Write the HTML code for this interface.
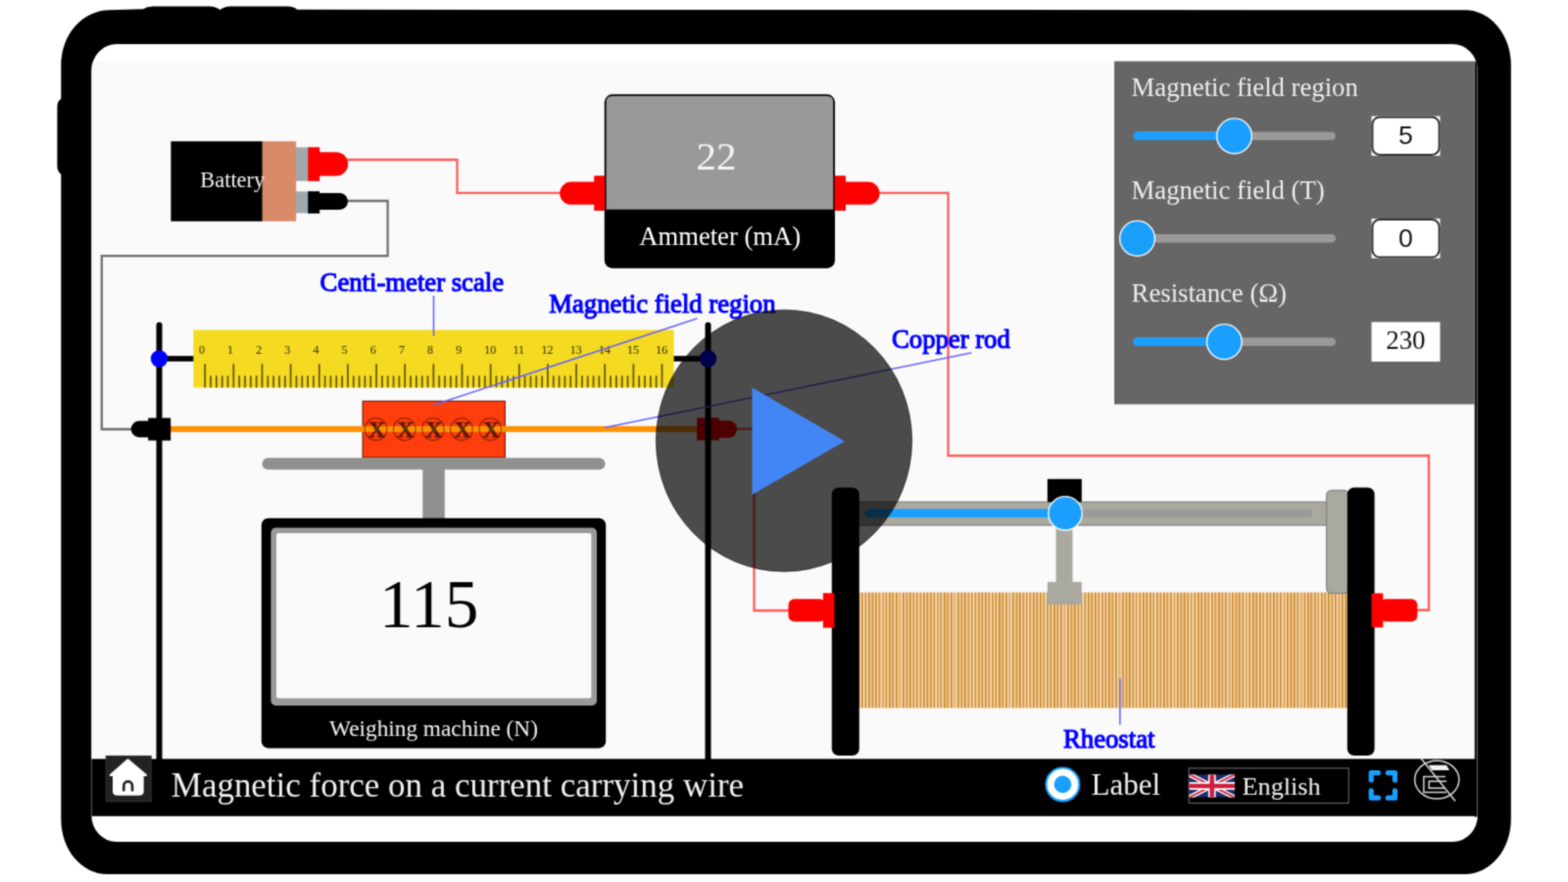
<!DOCTYPE html>
<html lang="en">
<head>
<meta charset="utf-8">
<title>Magnetic force on a current carrying wire</title>
<style>
html,body{margin:0;padding:0;width:1600px;height:900px;overflow:hidden;background:#ffffff}
svg{display:block;position:absolute;left:0;top:0}
text{font-family:"Liberation Serif",serif}
.sans{font-family:"Liberation Sans",sans-serif}
.lbl{fill:#0000ff;stroke:#0000ff;stroke-width:1.15px;stroke-linejoin:round;font-size:26.7px}
.lead{stroke:#6464ff;stroke-width:1.6;fill:none}
.rw{stroke:#ff5a5a;stroke-width:2.3;fill:none}
.bw{stroke:#6e6e6e;stroke-width:2.3;fill:none}
.pl{fill:#eeeeee;font-size:26.7px}
</style>
</head>
<body>
<svg id="stage" width="1600" height="900" viewBox="0 0 1600 900">
<defs>
<filter id="soft" x="0" y="0" width="1600" height="900" filterUnits="userSpaceOnUse" color-interpolation-filters="sRGB"><feConvolveMatrix order="3" kernelMatrix="0.0400 0.1200 0.0400 0.1200 0.3600 0.1200 0.0400 0.1200 0.0400" divisor="1" edgeMode="duplicate" preserveAlpha="true"/></filter>
<clipPath id="scr"><rect x="93.3" y="45" width="1414.6" height="814" rx="25.5" ry="27"/></clipPath>
<pattern id="coil" x="875.5" y="0" width="3.5" height="10" patternUnits="userSpaceOnUse">
<rect x="0" y="0" width="3.5" height="10" fill="#e7ba7a"/>
<rect x="0.1" y="0" width="1.2" height="10" fill="#c87a14"/>
<rect x="2.2" y="0" width="0.9" height="10" fill="#fdf3e2"/>
</pattern>
<pattern id="coil2" x="881" y="0" width="18.6" height="10" patternUnits="userSpaceOnUse">
<rect x="0" y="0" width="1" height="10" fill="#ffffff" fill-opacity="0.45"/>
<rect x="9.3" y="0" width="1.1" height="10" fill="#c77f1f" fill-opacity="0.35"/>
</pattern>
</defs>

<g filter="url(#soft)">
<rect width="1600" height="900" fill="#ffffff"/>
<path fill="#000000" d="M112 10.3 L146 9.2 Q150 6.6 156 6.6 L214 6.6 Q220 6.8 224.5 10 Q229 6.8 235 6.6 L294 6.6 Q300 6.8 303 9.8 L1495 10.3 A46.8 56 0 0 1 1541.8 66.3 L1541.8 836 A46.8 56 0 0 1 1495 892 L109 892 A46.7 56 0 0 1 62.3 836 L62.3 178 Q58.4 175 58.4 169 L58.4 109 Q58.4 103 62.3 101 L62.3 66 A49.7 55.7 0 0 1 112 10.3 Z"/>
<rect x="93.3" y="45" width="1414.6" height="814" rx="25.5" ry="27" fill="#ffffff"/>
<g clip-path="url(#scr)">
<rect x="93.3" y="62.5" width="1411.4" height="712" fill="#fafafa"/>
<rect x="1504.7" y="62.5" width="3" height="771" fill="#111111"/>
<path class="rw" d="M354 163 H466.5 V196.8 H573"/>
<path class="rw" d="M896 196.8 H967.5 V465 H1458 V622.5 H1445"/>
<path class="rw" d="M750 437.7 H769.5 V623 H806"/>
<path class="bw" d="M354 205 H395.6 V261.2 H103.8 V438 H136"/>
<rect x="174.4" y="144.2" width="93.5" height="81.6" fill="#000000"/>
<rect x="267.7" y="144.2" width="34.5" height="81.6" fill="#d98b69"/>
<rect x="302" y="150.3" width="12.4" height="34.4" fill="#a0a7ad"/>
<rect x="302" y="195.3" width="12.4" height="22.2" fill="#a0a7ad"/>
<rect x="314.2" y="150.2" width="12" height="34.6" fill="#ff0000"/>
<path fill="#ff0000" d="M324 155.3 H343 A12.1 12.1 0 0 1 343 179.5 H324 Z"/>
<rect x="314.2" y="195.2" width="12" height="22.6" fill="#000000"/>
<path fill="#000000" d="M324 197 H346.5 A8.5 8.5 0 0 1 346.5 214 H324 Z"/>
<text x="204.3" y="191.4" font-size="22.4" fill="#f2f2f2">Battery</text>
<rect x="616.8" y="96.3" width="235.2" height="177.4" rx="8" ry="8" fill="#000000"/>
<path fill="#999999" d="M618.6 104.3 Q618.6 98.1 624.8 98.1 H844 Q850.2 98.1 850.2 104.3 V213.8 H618.6 Z"/>
<text x="731" y="173.2" font-size="41" fill="#f4f4f4" text-anchor="middle">22</text>
<text x="734.7" y="250" font-size="26.6" fill="#ffffff" text-anchor="middle">Ammeter (mA)</text>
<rect x="606.2" y="179.3" width="11" height="35.7" fill="#ff0000"/>
<path fill="#ff0000" d="M608 185.5 H582.9 A11.6 11.6 0 0 0 582.9 208.8 H608 Z"/>
<rect x="851.6" y="179.3" width="11.4" height="35.7" fill="#ff0000"/>
<path fill="#ff0000" d="M861 185.5 H885.9 A11.6 11.6 0 0 1 885.9 208.8 H861 Z"/>
<rect x="162.5" y="363.2" width="36" height="5.6" fill="#000000"/>
<rect x="687" y="363.2" width="36" height="5.6" fill="#000000"/>
<rect x="197.3" y="336.6" width="490.3" height="58.9" fill="#f5da22"/>
<g stroke="#000000" stroke-opacity="0.62" stroke-width="1.7" fill="none">
<path d="M209.20 371.2V395.5M215.03 383.4V395.5M220.86 383.4V395.5M226.69 383.4V395.5M232.51 383.4V395.5M238.34 371.2V395.5M244.17 383.4V395.5M250.00 383.4V395.5M255.83 383.4V395.5M261.66 383.4V395.5M267.49 371.2V395.5M273.32 383.4V395.5M279.14 383.4V395.5M284.97 383.4V395.5M290.80 383.4V395.5M296.63 371.2V395.5M302.46 383.4V395.5M308.29 383.4V395.5M314.12 383.4V395.5M319.95 383.4V395.5M325.77 371.2V395.5M331.60 383.4V395.5M337.43 383.4V395.5M343.26 383.4V395.5M349.09 383.4V395.5M354.92 371.2V395.5M360.75 383.4V395.5M366.58 383.4V395.5M372.40 383.4V395.5M378.23 383.4V395.5M384.06 371.2V395.5M389.89 383.4V395.5M395.72 383.4V395.5M401.55 383.4V395.5M407.38 383.4V395.5M413.21 371.2V395.5M419.03 383.4V395.5M424.86 383.4V395.5M430.69 383.4V395.5M436.52 383.4V395.5M442.35 371.2V395.5M448.18 383.4V395.5M454.01 383.4V395.5M459.84 383.4V395.5M465.67 383.4V395.5M471.49 371.2V395.5M477.32 383.4V395.5M483.15 383.4V395.5M488.98 383.4V395.5M494.81 383.4V395.5M500.64 371.2V395.5M506.47 383.4V395.5M512.30 383.4V395.5M518.12 383.4V395.5M523.95 383.4V395.5M529.78 371.2V395.5M535.61 383.4V395.5M541.44 383.4V395.5M547.27 383.4V395.5M553.10 383.4V395.5M558.92 371.2V395.5M564.75 383.4V395.5M570.58 383.4V395.5M576.41 383.4V395.5M582.24 383.4V395.5M588.07 371.2V395.5M593.90 383.4V395.5M599.73 383.4V395.5M605.56 383.4V395.5M611.38 383.4V395.5M617.21 371.2V395.5M623.04 383.4V395.5M628.87 383.4V395.5M634.70 383.4V395.5M640.53 383.4V395.5M646.36 371.2V395.5M652.18 383.4V395.5M658.01 383.4V395.5M663.84 383.4V395.5M669.67 383.4V395.5M675.50 371.2V395.5"/>
</g>
<g font-size="13" fill="#1c1600" stroke="#1c1600" stroke-width="0.15" opacity="0.82">
<text transform="translate(202.90 361) scale(0.92 1)">0</text>
<text transform="translate(232.04 361) scale(0.92 1)">1</text>
<text transform="translate(261.19 361) scale(0.92 1)">2</text>
<text transform="translate(290.33 361) scale(0.92 1)">3</text>
<text transform="translate(319.47 361) scale(0.92 1)">4</text>
<text transform="translate(348.62 361) scale(0.92 1)">5</text>
<text transform="translate(377.76 361) scale(0.92 1)">6</text>
<text transform="translate(406.91 361) scale(0.92 1)">7</text>
<text transform="translate(436.05 361) scale(0.92 1)">8</text>
<text transform="translate(465.19 361) scale(0.92 1)">9</text>
<text transform="translate(494.34 361) scale(0.92 1)">10</text>
<text transform="translate(523.48 361) scale(0.92 1)">11</text>
<text transform="translate(552.62 361) scale(0.92 1)">12</text>
<text transform="translate(581.77 361) scale(0.92 1)">13</text>
<text transform="translate(610.91 361) scale(0.92 1)">14</text>
<text transform="translate(640.06 361) scale(0.92 1)">15</text>
<text transform="translate(669.20 361) scale(0.92 1)">16</text>
</g>
<rect x="370.1" y="409.4" width="145.2" height="57.4" fill="#ff3d0d" stroke="#7a1c02" stroke-width="1.2"/>
<rect x="172" y="434.8" width="541" height="6" fill="#ff9100"/>
<g fill="none" stroke="#3a1200" stroke-opacity="0.55" stroke-width="1.2">
<circle cx="383.6" cy="438" r="11.3"/>
<circle cx="412.8" cy="438" r="11.3"/>
<circle cx="441.9" cy="438" r="11.3"/>
<circle cx="471.0" cy="438" r="11.3"/>
<circle cx="500.2" cy="438" r="11.3"/>
</g>
<g font-size="23" font-weight="bold" fill="#1a0600" stroke="#1a0600" stroke-width="0.5" opacity="0.7" text-anchor="middle">
<text x="384.6" y="445.9">X</text>
<text x="413.8" y="445.9">X</text>
<text x="442.9" y="445.9">X</text>
<text x="472.0" y="445.9">X</text>
<text x="501.2" y="445.9">X</text>
</g>
<rect x="151.2" y="426.5" width="23" height="23" fill="#000000"/>
<path fill="#000000" d="M153 429.5 H142.1 A8.4 8.4 0 0 0 142.1 446.3 H153 Z"/>
<rect x="711.2" y="426.3" width="22.6" height="23" fill="#ff0000"/>
<path fill="#ff0000" d="M732 429.3 H743.3 A8.7 8.7 0 0 1 743.3 446.7 H732 Z"/>
<path d="M162.5 331.7 V776" stroke="#000000" stroke-width="6" stroke-linecap="round" fill="none"/>
<path d="M722.5 331.7 V776" stroke="#000000" stroke-width="6" stroke-linecap="round" fill="none"/>
<circle cx="162.5" cy="366" r="8.7" fill="#0000ff"/>
<circle cx="722.5" cy="366" r="8.7" fill="#0000ff"/>
<rect x="267.5" y="467.2" width="350" height="12" rx="6" ry="6" fill="#8f918f"/>
<rect x="431.3" y="478" width="22.5" height="52" fill="#8f918f"/>
<rect x="266.8" y="528.8" width="351.4" height="234.6" rx="7" ry="7" fill="#000000"/>
<rect x="276.4" y="538.6" width="332.6" height="181.4" rx="5" ry="5" fill="#999999"/>
<rect x="282" y="544" width="321.4" height="168.6" rx="2" ry="2" fill="#fafafa"/>
<text x="437.6" y="640.4" font-size="69.3" fill="#000000" text-anchor="middle">115</text>
<text x="442.5" y="750.9" font-size="23.3" fill="#f2f2f2" text-anchor="middle">Weighing machine (N)</text>
<rect x="875.5" y="604.5" width="499.5" height="118" fill="url(#coil)"/>
<rect x="875.5" y="604.5" width="499.5" height="118" fill="url(#coil2)"/>
<rect x="872" y="512.3" width="484" height="23.6" fill="#aaa9a0" stroke="#858585" stroke-width="1.4"/>
<rect x="882.5" y="519.5" width="457" height="8.6" rx="4.3" ry="4.3" fill="#999999"/>
<rect x="882.5" y="519.5" width="206" height="8.6" rx="4.3" ry="4.3" fill="#1a9fff"/>
<rect x="1068.8" y="488.8" width="35" height="23.4" fill="#000000"/>
<rect x="1077.5" y="536.5" width="17" height="60" fill="#aaa9a0"/>
<rect x="1068.8" y="593.8" width="35" height="23" fill="#aaa9a0"/>
<circle cx="1087" cy="523.8" r="17.2" fill="#1a9fff" stroke="#f4f8fb" stroke-width="1.4"/>
<rect x="1353.6" y="500.4" width="23" height="105" rx="5" ry="5" fill="#aaa9a0" stroke="#858585" stroke-width="1.3"/>
<rect x="848.8" y="497.5" width="28" height="273.5" rx="7" ry="7" fill="#000000"/>
<rect x="1374.8" y="497.5" width="27.8" height="273.5" rx="7" ry="7" fill="#000000"/>
<rect x="839.8" y="605.2" width="11.6" height="35.4" fill="#ff0000"/>
<rect x="804.5" y="611.3" width="38" height="23" rx="6" ry="6" fill="#ff0000"/>
<rect x="1399.5" y="605.4" width="11.8" height="34.8" fill="#ff0000"/>
<rect x="1408" y="611.3" width="38.3" height="23" rx="6" ry="6" fill="#ff0000"/>
<path class="lead" d="M442.5 301.8 V343"/>
<path class="lead" d="M711.3 325 L442.4 413.3"/>
<path class="lead" d="M991.3 360 L617.5 436.3"/>
<path class="lead" d="M1142.8 692.5 V739.5"/>
<text class="lbl" x="326.6" y="296.8">Centi-meter scale</text>
<text class="lbl" x="560.3" y="318.8">Magnetic field region</text>
<text class="lbl" x="910" y="354.8">Copper rod</text>
<text class="lbl" x="1085" y="762.5">Rheostat</text>
<rect x="1137" y="62.5" width="367.7" height="350" fill="#666666"/>
<text class="pl" x="1154.6" y="97.5">Magnetic field region</text>
<text class="pl" x="1154.6" y="202.5">Magnetic field (T)</text>
<text class="pl" x="1154.6" y="308.3">Resistance (Ω)</text>
<rect x="1156.3" y="134.50" width="206.7" height="8.6" rx="4.3" ry="4.3" fill="#999999"/>
<rect x="1156.3" y="134.50" width="103.20" height="8.6" rx="4.3" ry="4.3" fill="#1a9fff"/>
<circle cx="1259.50" cy="138.80" r="17.9" fill="#1a9fff" stroke="#f4f8fb" stroke-width="1.4"/>
<rect x="1156.3" y="239.00" width="206.7" height="8.6" rx="4.3" ry="4.3" fill="#999999"/>
<circle cx="1160.50" cy="243.30" r="17.9" fill="#1a9fff" stroke="#f4f8fb" stroke-width="1.4"/>
<rect x="1156.3" y="344.50" width="206.7" height="8.6" rx="4.3" ry="4.3" fill="#999999"/>
<rect x="1156.3" y="344.50" width="93.00" height="8.6" rx="4.3" ry="4.3" fill="#1a9fff"/>
<circle cx="1249.30" cy="348.80" r="17.9" fill="#1a9fff" stroke="#f4f8fb" stroke-width="1.4"/>
<rect x="1399.5" y="118.50" width="70" height="40.4" fill="#ffffff"/>
<rect x="1400.4" y="119.40" width="68.2" height="38.6" rx="7.5" ry="7.5" fill="#ffffff" stroke="#303030" stroke-width="2"/>
<text class="sans" x="1434.4" y="147.30" font-size="26.6" fill="#111111" text-anchor="middle">5</text>
<rect x="1399.5" y="223.10" width="70" height="40.4" fill="#ffffff"/>
<rect x="1400.4" y="224.00" width="68.2" height="38.6" rx="7.5" ry="7.5" fill="#ffffff" stroke="#303030" stroke-width="2"/>
<text class="sans" x="1434.4" y="251.90" font-size="26.6" fill="#111111" text-anchor="middle">0</text>
<rect x="1399.5" y="328.60" width="70" height="40.4" fill="#ffffff"/>
<text  x="1434.4" y="355.80" font-size="26.9" fill="#111111" text-anchor="middle">230</text>
<rect x="93.3" y="774.4" width="1413" height="58.4" fill="#000000"/>
</g>
<rect x="108.2" y="771.4" width="46" height="46.4" fill="#222222" stroke="#333333" stroke-width="1"/>
<path fill="#ffffff" stroke="#ffffff" stroke-width="2" stroke-linejoin="round" d="M130.5 775.3 L149 791 L145.7 791 L145.7 807.6 Q145.7 810.7 142.6 810.7 L119.1 810.7 Q116 810.7 116 807.6 L116 791 L112.7 791 Z"/>
<path fill="none" stroke="#222222" stroke-width="2.7" stroke-linecap="round" d="M126.3 806.3 V801.7 A4.35 4.35 0 0 1 135 801.7 V806.3"/>
<text x="174.8" y="812.5" font-size="36" fill="#f2f2f2" textLength="584.3" lengthAdjust="spacingAndGlyphs">Magnetic force on a current carrying wire</text>
<circle cx="1084.4" cy="800.4" r="16.9" fill="#ffffff" stroke="#1a9fff" stroke-width="2.2"/>
<circle cx="1084.4" cy="800.4" r="8.8" fill="#1a9fff"/>
<text x="1113.6" y="811.4" font-size="31" fill="#f2f2f2">Label</text>
<rect x="1213.2" y="783.9" width="163" height="35.6" fill="#000000" stroke="#606060" stroke-width="1.2"/>
<svg x="1213.4" y="790.2" width="46.6" height="23.6" viewBox="0 0 60 30" preserveAspectRatio="none">
<rect width="60" height="30" fill="#1b2a6b"/>
<path d="M0 0 L60 30 M60 0 L0 30" stroke="#ffffff" stroke-width="6"/>
<path d="M0 0 L60 30 M60 0 L0 30" stroke="#cf2040" stroke-width="2.4"/>
<path d="M30 0 V30 M0 15 H60" stroke="#ffffff" stroke-width="10"/>
<path d="M30 0 V30 M0 15 H60" stroke="#cf2040" stroke-width="6"/>
</svg>
<text x="1267.6" y="811.4" font-size="26.2" fill="#f2f2f2">English</text>
<g fill="none" stroke="#1a9fff" stroke-width="5.2" stroke-linecap="round" stroke-linejoin="round">
<path d="M1399.2 796 V788.6 H1406.4"/>
<path d="M1416.2 788.6 H1423.4 V796"/>
<path d="M1399.2 806.8 V814.2 H1406.4"/>
<path d="M1416.2 814.2 H1423.4 V806.8"/>
</g>
<g fill="none" stroke="#d8d8d8" stroke-width="1.5">
<ellipse cx="1466.2" cy="795.6" rx="22.6" ry="19.4"/>
<path d="M1450 773.8 L1485 817.5"/>
<path d="M1475 792.4 H1452.8 V808.6 H1476"/>
<path d="M1476 797.2 H1458.2 V804.2 H1474"/>
</g>
<path fill="#f2f2f2" d="M1457.6 780.8 H1476 L1479 786 H1461.2 Z"/>
<ellipse cx="800" cy="449.7" rx="130.6" ry="133.5" fill="#000000" fill-opacity="0.7" stroke="#000000" stroke-opacity="0.55" stroke-width="1"/>
<path fill="#4285f4" d="M767.5 395.5 L862 450.3 L767.5 504.8 Z"/>
</g>
</svg>
</body>
</html>
